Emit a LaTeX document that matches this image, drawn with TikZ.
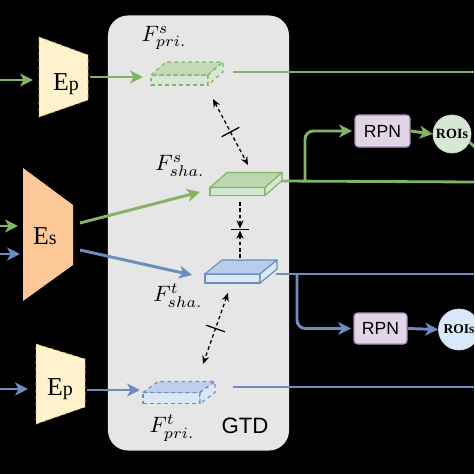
\documentclass[tikz,border=0pt]{standalone}
\usepackage{graphicx}
\usepackage{fontspec}
\setmainfont{Liberation Serif}
\newfontfamily\sansf{Liberation Sans}
\usetikzlibrary{arrows.meta}
\definecolor{gline}{HTML}{82B366}
\definecolor{bline}{HTML}{6C8EBF}
\definecolor{gtdbg}{HTML}{E6E6E6}
\definecolor{yfill}{HTML}{FFF2CC}
\definecolor{ydraw}{HTML}{D6B656}
\definecolor{ofill}{HTML}{FDC897}
\definecolor{pfill}{HTML}{E1D5E7}
\definecolor{pdraw}{HTML}{A68DB5}
\definecolor{gfill}{HTML}{D5E8D4}
\definecolor{gtop}{HTML}{BCD8AE}
\definecolor{bfill}{HTML}{DAE8FC}
\definecolor{btop}{HTML}{B9CCEA}
\newcommand{\flab}[2]{\scalebox{1.9}{$F^{#1}_{#2}$}}
\tikzset{
  gar/.style={draw=gline, line width=2.5pt, -{Stealth[length=11pt,width=11pt,inset=3pt]}},
  bar/.style={draw=bline, line width=2.5pt, -{Stealth[length=11pt,width=11pt,inset=3pt]}},
  gln/.style={draw=gline, line width=2.4pt},
  bln/.style={draw=bline, line width=2.4pt},
  epshape/.style={fill=yfill, draw=ydraw, dashed, line width=0.6pt},
  enctext/.style={inner sep=0pt, anchor=base west, text=black},
  gfront/.style={rectangle, fill=gfill, draw=gline, line width=1pt, inner sep=0pt, outer sep=0pt},
  bfront/.style={rectangle, fill=bfill, draw=bline, line width=1pt, inner sep=0pt, outer sep=0pt},
  gtopf/.style={fill=gtop, draw=gline, line width=1pt, line join=round},
  btopf/.style={fill=btop, draw=bline, line width=1pt, line join=round},
  gsidef/.style={fill=gfill, draw=gline, line width=1pt, line join=round},
  bsidef/.style={fill=bfill, draw=bline, line width=1pt, line join=round},
  flabel/.style={inner sep=0pt},
  rpnbox/.style={rectangle, rounded corners=3pt, fill=pfill, draw=pdraw, line width=1pt, font=\sansf\fontsize{15}{16}\selectfont, inner sep=0pt},
  roic/.style={circle, inner sep=0pt, font=\bfseries\fontsize{12}{12}\selectfont},
  darr/.style={draw=black, dashed, dash pattern=on 3pt off 2.5pt, line width=1.1pt, {Stealth[length=7pt,width=6pt]}-{Stealth[length=7pt,width=6pt]}},
  darrs/.style={draw=black, dashed, dash pattern=on 3pt off 2.5pt, line width=1.1pt, -{Stealth[length=7pt,width=6pt]}},
  tick/.style={draw=black, line width=1.1pt}
}
\begin{document}
\begin{tikzpicture}[x=0.03cm,y=-0.03cm]
\path[use as bounding box] (0,0) rectangle (474,474);
\clip (0,0) rectangle (474,474);
\fill[black] (0,0) rectangle (474,474);

% GTD panel
\node[rectangle, rounded corners=0.6cm, fill=gtdbg, minimum width=5.43cm, minimum height=13.05cm, inner sep=0pt] (gtd) at (198.5,233) {};
\node[inner sep=0pt, font=\sansf\fontsize{19}{20}\selectfont] (gtdlab) at (245,426) {GTD};

% encoders
\draw[epshape] (39,37) -- (88,55) -- (88,100) -- (39,117) -- cycle;
\node[enctext] (ep1) at (53,90) {\fontsize{22}{22}\selectfont E\fontsize{17}{17}\selectfont p};
\fill[ofill] (23,168) -- (73,205) -- (73,265) -- (23,301) -- cycle;
\node[enctext] (es) at (33,244) {\fontsize{22}{22}\selectfont E\fontsize{17}{17}\selectfont s};
\draw[epshape] (36,344) -- (85,359) -- (85,407) -- (36,424) -- cycle;
\node[enctext] (ep2) at (47,395) {\fontsize{22}{22}\selectfont E\fontsize{17}{17}\selectfont p};

% slabs
\node[gfront, dashed, fill opacity=0.85, minimum width=1.71cm, minimum height=0.3cm] (spri) at (179.5,80) {};
\draw[gtopf, dashed, fill opacity=0.85] (spri.north west) -- ++(15,-13) -- ++(57,0) -- (spri.north east) -- cycle;
\draw[gsidef, dashed, fill opacity=0.85] (spri.north east) -- ++(15,-13) -- ++(0,10) -- (spri.south east) -- cycle;

\node[gfront, minimum width=1.65cm, minimum height=0.24cm] (ssha) at (237.5,191.5) {};
\draw[gtopf] (ssha.north west) -- ++(17,-15) -- ++(55,0) -- (ssha.north east) -- cycle;
\draw[gsidef] (ssha.north east) -- ++(17,-15) -- ++(0,8) -- (ssha.south east) -- cycle;

\node[bfront, minimum width=1.65cm, minimum height=0.27cm] (tsha) at (232.5,278.5) {};
\draw[btopf] (tsha.north west) -- ++(17,-14) -- ++(55,0) -- (tsha.north east) -- cycle;
\draw[bsidef] (tsha.north east) -- ++(17,-14) -- ++(0,9) -- (tsha.south east) -- cycle;

\node[bfront, dashed, fill opacity=0.85, minimum width=1.71cm, minimum height=0.33cm] (tpri) at (171.5,398) {};
\draw[btopf, dashed, fill opacity=0.85] (tpri.north west) -- ++(15,-11) -- ++(57,0) -- (tpri.north east) -- cycle;
\draw[bsidef, dashed, fill opacity=0.85] (tpri.north east) -- ++(15,-11) -- ++(0,11) -- (tpri.south east) -- cycle;

% labels
\node[flabel] (lspri) at (164,38) {\flab{s}{pri.}};
\node[flabel] (lssha) at (180,166) {\flab{s}{sha.}};
\node[flabel] (ltsha) at (178,296) {\flab{t}{sha.}};
\node[flabel] (ltpri) at (172,428) {\flab{t}{pri.}};

% RPN and ROIs
\node[rpnbox, minimum width=1.65cm, minimum height=0.96cm] (rpn1) at (382.5,131) {RPN};
\node[rpnbox, minimum width=1.59cm, minimum height=0.93cm] (rpn2) at (380.5,328.5) {RPN};
\node[roic, fill=gfill, draw=gfill!85!gline, line width=0.6pt, minimum size=1.14cm] (rois1) at (452,134) {ROIs};
\node[roic, fill=bfill, draw=bfill!85!bline, line width=0.6pt, minimum size=1.23cm, font=\bfseries\fontsize{11.5}{12}\selectfont] (rois2) at (459,329.5) {ROIs};

% coordinates
\coordinate (gin1) at (0,80);   \coordinate (ep1in) at (33,80);
\coordinate (ep1out) at (90,77); \coordinate (spriin) at (143,77);
\coordinate (gin2) at (0,226);  \coordinate (esgin) at (18,226);
\coordinate (bin2) at (0,254);  \coordinate (esbin) at (20,254);
\coordinate (esgout) at (80,223); \coordinate (sshain) at (200,192);
\coordinate (esbout) at (80,250); \coordinate (tshain) at (192,275);
\coordinate (bin3) at (0,389);  \coordinate (ep2in) at (28,389);
\coordinate (ep2out) at (87,390); \coordinate (tpriin) at (140,390);
\coordinate (sprir) at (233,72); \coordinate (gout1) at (474,72);
\coordinate (sshar) at (281,181); \coordinate (gout2) at (474,182);
\coordinate (gbr) at (305,181);
\coordinate (tshar) at (276,274); \coordinate (bout2) at (474,274);
\coordinate (bbr) at (297,274);
\coordinate (tprir) at (233,387); \coordinate (bout3) at (474,387);
\coordinate (roiexit) at (482,154);

% connectors
\draw[gar] (gin1) -- (ep1in);
\draw[gar] (ep1out) -- (spriin);
\draw[gar] (gin2) -- (esgin);
\draw[bar] (bin2) -- (esbin);
\draw[gar] (esgout) -- (sshain);
\draw[bar] (esbout) -- (tshain);
\draw[bar] (bin3) -- (ep2in);
\draw[bar] (ep2out) -- (tpriin);
\draw[gln] (sprir) -- (gout1);
\draw[gln] (sshar) -- (gout2);
\draw[gar, rounded corners=0.25cm, shorten >=2pt] (gbr) |- (rpn1.west);
\draw[gar] (rpn1.east) -- (rois1.west);
\draw[gln] (rois1.-25) -- (roiexit);
\draw[bln] (tshar) -- (bout2);
\draw[bar, rounded corners=0.25cm, shorten >=2pt] (bbr) |- (rpn2.west);
\draw[bar] (rpn2.east) -- (rois2.west);
\draw[bln] (tprir) -- (bout3);

% dashed relations
\coordinate (a1) at (213,99); \coordinate (a2) at (248,165);
\draw[darr] (a1) -- (a2);
\coordinate (ta1) at (221.7,136.7); \coordinate (ta2) at (239.3,127.3);
\draw[tick] (ta1) -- (ta2);

\coordinate (b1) at (240,202); \coordinate (bm1) at (240,228.5);
\coordinate (b2) at (240,258); \coordinate (bm2) at (240,230.5);
\draw[darrs] (b1) -- (bm1);
\draw[darrs] (b2) -- (bm2);
\coordinate (tb1) at (231,229.5); \coordinate (tb2) at (249,229.5);
\draw[tick] (tb1) -- (tb2);

\coordinate (c1) at (228,293); \coordinate (c2) at (203,364);
\draw[darr] (c1) -- (c2);
\coordinate (tc1) at (206.1,325.2); \coordinate (tc2) at (224.9,331.8);
\draw[tick] (tc1) -- (tc2);
\end{tikzpicture}
\end{document}
